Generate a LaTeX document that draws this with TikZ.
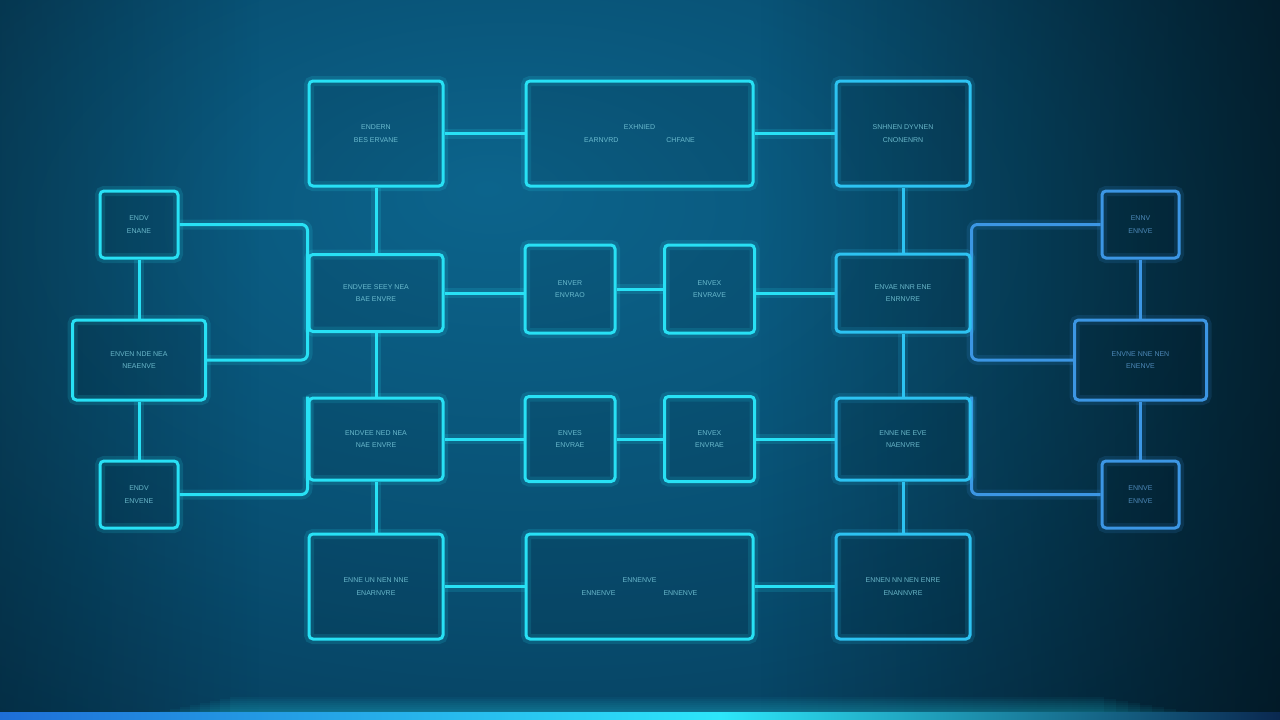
\documentclass[tikz,border=0pt]{standalone}
\usepackage{fontspec}
\setmainfont{Liberation Sans}
\usetikzlibrary{fadings}
\definecolor{neon}{RGB}{40,225,245}
\definecolor{neonb}{RGB}{45,195,242}
\definecolor{neonc}{RGB}{60,150,228}
\definecolor{txt}{RGB}{130,212,228}
\definecolor{txtc}{RGB}{95,160,215}
\definecolor{bgA}{RGB}{12,100,140}
\definecolor{bgB}{RGB}{8,80,115}
\definecolor{bgC}{RGB}{5,50,78}
\definecolor{bgD}{RGB}{3,28,45}
\definecolor{glowL}{RGB}{30,110,215}
\definecolor{glowM}{RGB}{45,230,250}
\definecolor{glowR}{RGB}{10,40,80}
\pgfdeclareradialshading{bgshade}{\pgfpoint{-6bp}{12bp}}{color(0bp)=(bgA); color(22bp)=(bgB); color(48bp)=(bgC); color(72bp)=(bgD)}
\pgfdeclarelayer{bg}
\pgfdeclarelayer{wires}
\pgfsetlayers{bg,wires,main}
\tikzset{
  box/.style={draw=#1, line width=3pt, rounded corners=4pt, fill=black, fill opacity=0.08, text opacity=0.8,
    text=txt, align=center, inner sep=0pt, font=\fontsize{7}{12.5}\selectfont,
    preaction={draw=#1, line width=10pt, draw opacity=0.14, rounded corners=4pt}},
  box/.default=neon,
  wire/.style={draw=#1, line width=3pt, preaction={draw=#1, line width=10pt, draw opacity=0.14}},
  wire/.default=neon,
}
\begin{document}
\begin{tikzpicture}[x=1pt,y=-1pt]
\useasboundingbox (0,0) rectangle (1280,720);
\begin{pgfonlayer}{bg}
  \path[shading=bgshade] (0,0) rectangle (1280,720);
  \fill[black, opacity=0.55, path fading=west] (760,0) rectangle (1280,720);
  \fill[black, opacity=0.25, path fading=east] (0,0) rectangle (260,720);
  \foreach \i in {1,...,8} {
    \fill[glowM, opacity=0.045] (150+10*\i,713-2*\i) rectangle (1200-12*\i,713);
  }
  \shade[left color=glowL, right color=glowM] (0,712) rectangle (720,720);
  \shade[left color=glowM, right color=glowR] (720,712) rectangle (1280,720);
\end{pgfonlayer}

% top row
\node[box, minimum width=134pt, minimum height=105pt] (T1) at (376,133.5) {ENDERN\\BES ERVANE};
\node[box, minimum width=227pt, minimum height=105pt] (T2) at (639.5,133.5) {EXHNIED\\EARNVRD\hspace{48pt}CHFANE};
\node[box=neonb, minimum width=134pt, minimum height=105pt] (T3) at (903,133.5) {SNHNEN DYVNEN\\CNONENRN};
% second row
\node[box, minimum width=134pt, minimum height=77pt] (M1L) at (376,293) {ENDVEE SEEY NEA\\BAE ENVRE};
\node[box, minimum width=90pt, minimum height=88pt] (S1) at (570,289) {ENVER\\ENVRAO};
\node[box, minimum width=90pt, minimum height=88pt] (S2) at (709.5,289) {ENVEX\\ENVRAVE};
\node[box=neonb, minimum width=134pt, minimum height=78pt] (M1R) at (903,293) {ENVAE NNR ENE\\ENRNVRE};
% third row
\node[box, minimum width=134pt, minimum height=82pt] (M2L) at (376,439) {ENDVEE NED NEA\\NAE ENVRE};
\node[box, minimum width=90pt, minimum height=85pt] (S3) at (570,439) {ENVES\\ENVRAE};
\node[box, minimum width=90pt, minimum height=85pt] (S4) at (709.5,439) {ENVEX\\ENVRAE};
\node[box=neonb, minimum width=134pt, minimum height=82pt] (M2R) at (903,439) {ENNE NE EVE\\NAENVRE};
% bottom row
\node[box, minimum width=134pt, minimum height=105pt] (B1) at (376,586.5) {ENNE UN NEN NNE\\ENARNVRE};
\node[box, minimum width=227pt, minimum height=105pt] (B2) at (639.5,586.5) {ENNENVE\\ENNENVE\hspace{48pt}ENNENVE};
\node[box=neonb, minimum width=134pt, minimum height=105pt] (B3) at (903,586.5) {ENNEN NN NEN ENRE\\ENANNVRE};
% left column
\node[box, minimum width=78pt, minimum height=67pt] (L1) at (139,224.5) {ENDV\\ENANE};
\node[box, minimum width=133pt, minimum height=80pt] (L2) at (139,360) {ENVEN NDE NEA\\NEAENVE};
\node[box, minimum width=78pt, minimum height=67pt] (L3) at (139,494.5) {ENDV\\ENVENE};
% right column
\node[box=neonc, text=txtc, minimum width=77pt, minimum height=67pt] (R1) at (1140.5,224.5) {ENNV\\ENNVE};
\node[box=neonc, text=txtc, minimum width=132pt, minimum height=80pt] (R2) at (1140.5,360) {ENVNE NNE NEN\\ENENVE};
\node[box=neonc, text=txtc, minimum width=77pt, minimum height=67pt] (R3) at (1140.5,494.5) {ENNVE\\ENNVE};

\begin{pgfonlayer}{wires}
  \draw[wire] (T1) -- (T2);
  \draw[wire] (T2) -- (T3);
  \draw[wire] (T1) -- (M1L);
  \draw[wire] (M1L) -- (M2L);
  \draw[wire] (M2L) -- (B1);
  \draw[wire] (M1L.east) -- (M1L.east -| S1.west);
  \draw[wire] (S1) -- (S2);
  \draw[wire] (S2.east |- M1R.west) -- (M1R.west);
  \draw[wire] (M2L) -- (S3);
  \draw[wire] (S3) -- (S4);
  \draw[wire] (S4) -- (M2R);
  \draw[wire] (B1) -- (B2);
  \draw[wire] (B2) -- (B3);
  \draw[wire=neonb] (T3) -- (M1R);
  \draw[wire=neonb] (M1R) -- (M2R);
  \draw[wire=neonb] (M2R) -- (B3);
  \draw[wire] (L1) -- (L2);
  \draw[wire] (L2) -- (L3);
  \draw[wire, rounded corners=6pt] (L1.east) -| (M1L.west) |- (L2.east);
  \draw[wire, rounded corners=6pt] (L3.east) -| (M2L.north west);
  \draw[wire=neonc] (R1) -- (R2);
  \draw[wire=neonc] (R2) -- (R3);
  \draw[wire=neonc, rounded corners=6pt] (R1.west) -| (M1R.east) |- (R2.west);
  \draw[wire=neonc, rounded corners=6pt] (R3.west) -| (M2R.north east);
\end{pgfonlayer}
\end{tikzpicture}
\end{document}
